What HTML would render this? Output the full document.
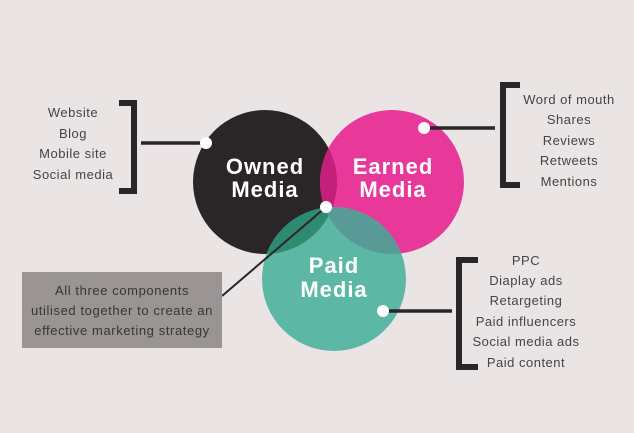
<!DOCTYPE html><html><head><style>body{margin:0}svg{display:block}text{font-family:"Liberation Sans",sans-serif}</style></head><body>
<svg width="634" height="433" viewBox="0 0 634 433" xmlns="http://www.w3.org/2000/svg">
<defs>
<clipPath id="co"><circle cx="265" cy="182" r="72"/></clipPath>
<clipPath id="ce"><circle cx="392" cy="182" r="72"/></clipPath>
</defs>
<rect width="634" height="433" fill="#ebe4e4"/>
<circle cx="265" cy="182" r="72" fill="#2a2526"/>
<circle cx="392" cy="182" r="72" fill="#e8389a"/>
<circle cx="392" cy="182" r="72" fill="#c41f7a" clip-path="url(#co)"/>
<circle cx="334" cy="279" r="72" fill="#5cb8a4"/>
<circle cx="334" cy="279" r="72" fill="#2f8a72" clip-path="url(#co)"/>
<circle cx="334" cy="279" r="72" fill="#5a9a96" clip-path="url(#ce)"/>
<g font-weight="bold" fill="#fff" font-size="22" letter-spacing="1" text-anchor="middle">
<text x="265" y="174">Owned</text><text x="265" y="197">Media</text>
<text x="393" y="174">Earned</text><text x="393" y="197">Media</text>
<text x="334" y="273">Paid</text><text x="334" y="297">Media</text>
</g>
<g stroke="#2a2526" stroke-width="3.5" fill="none">
<line x1="141" y1="143" x2="206" y2="143"/>
<line x1="424" y1="128" x2="495" y2="128"/>
<line x1="383" y1="311" x2="452" y2="311"/>
<line x1="222" y1="296" x2="326" y2="207" stroke-width="2"/>
</g>
<g stroke="#2a2526" stroke-width="6" fill="none">
<polyline points="119,103 134,103 134,191 119,191"/>
<polyline points="520,85 503,85 503,185 520,185"/>
<polyline points="478,260 459,260 459,367 478,367"/>
</g>
<g fill="#fff"><circle cx="206" cy="143" r="6"/><circle cx="424" cy="128" r="6"/><circle cx="383" cy="311" r="6"/><circle cx="326" cy="207" r="6"/></g>
<rect x="22" y="272" width="200" height="76" fill="#9a9494"/>
<g font-size="13" fill="#3a3636" text-anchor="middle" letter-spacing="0.6">
<text x="122" y="295">All three components</text>
<text x="122" y="315">utilised together to create an</text>
<text x="122" y="335">effective marketing strategy</text>
</g>
<g font-size="13" fill="#444" text-anchor="middle" letter-spacing="0.5">
<text x="73" y="117">Website</text><text x="73" y="138">Blog</text><text x="73" y="158">Mobile site</text><text x="73" y="179">Social media</text>
<text x="569" y="104">Word of mouth</text><text x="569" y="124">Shares</text><text x="569" y="145">Reviews</text><text x="569" y="165">Retweets</text><text x="569" y="186">Mentions</text>
<text x="526" y="265">PPC</text><text x="526" y="285">Diaplay ads</text><text x="526" y="305">Retargeting</text><text x="526" y="326">Paid influencers</text><text x="526" y="346">Social media ads</text><text x="526" y="367">Paid content</text>
</g>
</svg></body></html>
